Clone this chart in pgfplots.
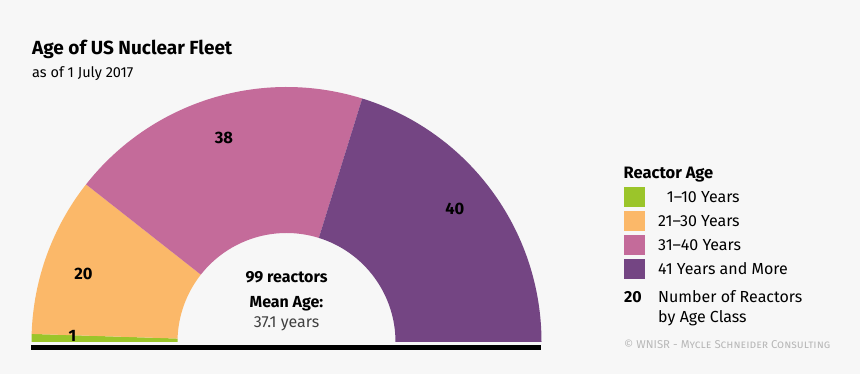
\documentclass[border=0pt]{standalone}
\usepackage{pgfplots}
\usepackage{pgfplotstable}
\pgfplotsset{compat=1.18}
\usepackage{fontspec}
\setmainfont{Fira Sans}
\definecolor{bg}{HTML}{F7F7F7}
\definecolor{cA}{HTML}{9BC52A}
\definecolor{cB}{HTML}{FBB869}
\definecolor{cC}{HTML}{C46B9A}
\definecolor{cD}{HTML}{744583}
\definecolor{cp}{HTML}{B8B8B8}
\pgfplotstableread{
value color dx dy
1 cA 0 3
20 cB -2 -5
38 cC 1 0
40 cD -4 6
}\agedata
\def\cx{286.5}
\def\cy{32}
\def\Ro{255}
\def\Ri{109}
\tikzset{lbl/.style={font=\fontsize{16.5}{18}\selectfont\bfseries, anchor=center}}
\begin{document}
\begin{tikzpicture}
\fill[bg] (0,0) rectangle (860pt,374pt);
\begin{axis}[x=1pt,y=1pt,xmin=0,xmax=860,ymin=0,ymax=374,hide axis,clip=false,
  at={(0,0)},anchor=origin]
\xdef\cum{0}
\gdef\alllabels{}
\pgfplotsinvokeforeach{0,1,2,3}{
  \pgfplotstablegetelem{#1}{value}\of\agedata \let\myv\pgfplotsretval
  \pgfplotstablegetelem{#1}{color}\of\agedata \let\myc\pgfplotsretval
  \pgfplotstablegetelem{#1}{dx}\of\agedata \let\mydx\pgfplotsretval
  \pgfplotstablegetelem{#1}{dy}\of\agedata \let\mydy\pgfplotsretval
  \pgfmathsetmacro\aA{180-\cum/99*180}
  \pgfmathsetmacro\aB{180-(\cum+\myv)/99*180}
  \pgfmathsetmacro\aM{(\aA+\aB)/2}
  \pgfmathsetmacro\newcum{\cum+\myv}
  \xdef\cum{\newcum}
  \pgfmathsetmacro\xo{\cx+\Ro*cos(\aA)}
  \pgfmathsetmacro\yo{\cy+\Ro*sin(\aA)}
  \pgfmathsetmacro\xin{\cx+\Ri*cos(\aB)}
  \pgfmathsetmacro\yin{\cy+\Ri*sin(\aB)}
  \pgfmathsetmacro\xl{\cx+214*cos(\aM)+\mydx}
  \pgfmathsetmacro\yl{\cy+214*sin(\aM)+\mydy}
  \pgfmathtruncatemacro\vi{\myv}
  \edef\temp{\noexpand\fill[\myc] (axis cs:\xo,\yo) arc[start angle=\aA, end angle=\aB, radius=\Ro pt] -- (axis cs:\xin,\yin) arc[start angle=\aB, end angle=\aA, radius=\Ri pt] -- cycle;}
  \temp
  \xdef\alllabels{\unexpanded\expandafter{\alllabels}\noexpand\node[lbl] at (axis cs:\xl,\yl) {\vi};}
}
\alllabels
\draw[line width=5pt] (axis cs:31,26.5) -- (axis cs:541,26.5);
% titles
\node[anchor=base west, inner sep=0, font=\fontsize{19}{22}\selectfont\bfseries] at (axis cs:32,319.7) {Age of US Nuclear Fleet};
\node[anchor=base west, inner sep=0, font=\fontsize{14.5}{17}\selectfont] at (axis cs:32,296.3) {as of 1 July 2017};
% center
\node[anchor=base, inner sep=0, font=\fontsize{16}{18}\selectfont\bfseries] at (axis cs:286.5,91.7) {99 reactors};
\node[anchor=base, inner sep=0, font=\fontsize{16}{18}\selectfont\bfseries] at (axis cs:286.5,66.7) {Mean Age:};
\node[anchor=base, inner sep=0, font=\fontsize{16}{18}\selectfont, text=black!75] at (axis cs:286.5,46.7) {37.1 years};
% legend
\node[anchor=base west, inner sep=0, font=\fontsize{16.5}{19}\selectfont\bfseries] at (axis cs:623.5,195) {Reactor Age};
\fill[cA] (axis cs:624,166.7) rectangle (axis cs:644.7,186.7);
\fill[cB] (axis cs:624,142.7) rectangle (axis cs:644.7,162.7);
\fill[cC] (axis cs:624,118.7) rectangle (axis cs:644.7,138.7);
\fill[cD] (axis cs:624,94.7) rectangle (axis cs:644.7,114.7);
\node[anchor=base west, inner sep=0, font=\fontsize{16}{19}\selectfont] at (axis cs:666.7,171.3) {1--10 Years};
\node[anchor=base west, inner sep=0, font=\fontsize{16}{19}\selectfont] at (axis cs:658,147.3) {21--30 Years};
\node[anchor=base west, inner sep=0, font=\fontsize{16}{19}\selectfont] at (axis cs:658,123.3) {31--40 Years};
\node[anchor=base west, inner sep=0, font=\fontsize{16}{19}\selectfont] at (axis cs:658,99.3) {41 Years and More};
\node[anchor=base west, inner sep=0, font=\fontsize{16}{19}\selectfont\bfseries] at (axis cs:624,71.3) {20};
\node[anchor=base west, inner sep=0, font=\fontsize{16}{19}\selectfont] at (axis cs:658,71.3) {Number of Reactors};
\node[anchor=base west, inner sep=0, font=\fontsize{16}{19}\selectfont] at (axis cs:658,51.7) {by Age Class};
\node[anchor=base west, inner sep=0, font=\fontsize{11.4}{13}\selectfont\scshape, text=cp] at (axis cs:624,25) {© WNISR - Mycle Schneider Consulting};
\end{axis}
\end{tikzpicture}
\end{document}
